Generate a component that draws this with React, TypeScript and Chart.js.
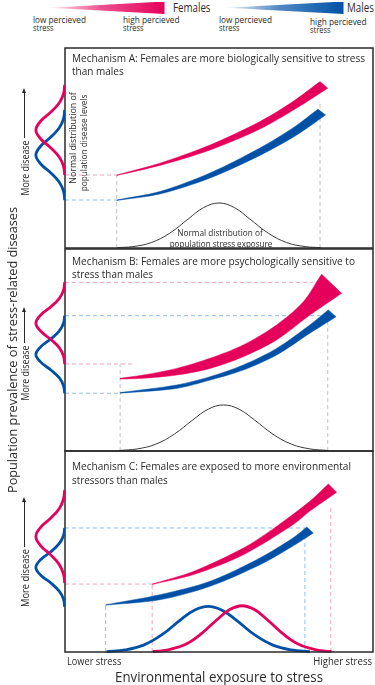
import React, { useEffect, useLayoutEffect, useRef } from "react";
import { Chart, registerables } from "chart.js";

Chart.register(...registerables);

type Pt = [number, number];
type Sex = "F" | "M" | "N";
type Guide = { sex: Sex; from: Pt; to: Pt };

const FEMALE = "#E5005B";
const MALE = "#0051A6";
const GUIDE_COLORS: Record<Sex, string> = { F: "#F2A3C0", M: "#8FC0EA", N: "#C2C2C2" };
const INK = "#2a2a2a";
const FONT = '"Open Sans", "Noto Sans", "Liberation Sans", sans-serif';

// x: environmental stress exposure (0 = lowest, 100 = highest)
// y: population disease level (0 = frame bottom, 100 = frame top)

// ---------- Mechanism A ----------
const femaleRibbonATop: Pt[] = [[16.8, 36.5], [30.8, 42.4], [47.1, 51.5], [63.3, 63.2], [74.0, 73.2], [82.8, 83.2]];
const femaleRibbonABottom: Pt[] = [[85.3, 79.9], [74.7, 69.5], [63.3, 59.5], [47.1, 49.0], [30.8, 41.3], [16.8, 36.3]];
const maleRibbonATop: Pt[] = [[16.8, 24.0], [30.8, 28.2], [47.1, 37.5], [63.3, 50.0], [74.0, 60.0], [82.1, 69.4]];
const maleRibbonABottom: Pt[] = [[84.6, 66.5], [74.7, 56.0], [63.3, 46.3], [47.1, 35.0], [30.8, 27.0], [16.8, 23.8]];
const exposureA: Pt[] = [[17, 0.2], [22, 0.7], [28, 2.7], [34, 7.4], [40, 14.5], [45, 20.2], [50, 22.5], [55, 20.2], [60, 14.5], [66, 7.4], [72, 2.7], [78, 0.7], [83, 0.2]];
const guidesA: Guide[] = [
  { sex: "F", from: [0, 36.5], to: [16.8, 36.5] },
  { sex: "M", from: [0, 24.0], to: [16.8, 24.0] },
  { sex: "N", from: [16.8, 0], to: [16.8, 36.5] },
  { sex: "N", from: [82.8, 0], to: [82.8, 72.5] },
];
const femaleDiseaseA = [36.5, 41, 45.5, 50, 54.5, 59, 63.5, 68, 72.5, 77, 81.5];
const maleDiseaseA = [24, 28.5, 33, 37.5, 42, 46.5, 51, 55.5, 60, 64.5, 69];

// ---------- Mechanism B ----------
const femaleRibbonBTop: Pt[] = [[17.9, 36.0], [25.4, 37.6], [36.3, 40.9], [47.1, 45.9], [57.9, 52.5], [68.7, 62.4], [77.4, 73.9], [83.3, 87.5]];
const femaleRibbonBBottom: Pt[] = [[89.8, 78.1], [79.5, 67.3], [68.7, 55.0], [57.9, 46.7], [47.1, 40.9], [36.3, 37.6], [25.4, 36.0], [17.9, 35.6]];
const maleRibbonBTop: Pt[] = [[17.9, 28.9], [36.3, 32.7], [47.1, 36.8], [57.9, 42.6], [68.7, 50.8], [79.5, 62.4], [85.5, 69.8]];
const maleRibbonBBottom: Pt[] = [[88.0, 66.5], [79.5, 58.3], [68.7, 47.5], [57.9, 40.1], [47.1, 35.1], [36.3, 31.0], [17.9, 28.6]];
const exposureB: Pt[] = [[17.5, 0.25], [23.5, 1.05], [29.5, 3.4], [35.5, 8.35], [41.5, 15.4], [46.5, 20.7], [51.5, 22.8], [56.5, 20.7], [61.5, 15.4], [67.5, 8.35], [73.5, 3.4], [79.5, 1.05], [85.5, 0.25]];
const guidesB: Guide[] = [
  { sex: "F", from: [0, 83.5], to: [80.5, 83.5] },
  { sex: "M", from: [0, 67.0], to: [85.0, 67.0] },
  { sex: "F", from: [0, 43.1], to: [22.2, 43.1] },
  { sex: "M", from: [0, 28.6], to: [17.9, 28.6] },
  { sex: "N", from: [17.9, 0], to: [17.9, 43.1] },
  { sex: "N", from: [85.3, 0], to: [85.3, 69.8] },
];
const femaleDiseaseB = [43.1, 47.1, 51.2, 55.2, 59.3, 63.3, 67.3, 71.4, 75.4, 79.5, 83.5];
const maleDiseaseB = [28.6, 32.4, 36.3, 40.1, 44.0, 47.8, 51.6, 55.5, 59.3, 63.2, 67.0];

// ---------- Mechanism C ----------
const femaleRibbonCTop: Pt[] = [[28.3, 33.8], [41.7, 40.1], [57.9, 51.7], [68.7, 62.5], [79.5, 75.0], [85.5, 83.6]];
const femaleRibbonCBottom: Pt[] = [[88.2, 79.5], [79.5, 70.1], [74.0, 63.3], [57.9, 48.4], [41.7, 38.5], [28.3, 33.6]];
const maleRibbonCTop: Pt[] = [[13.2, 23.5], [30.8, 28.5], [47.1, 35.2], [63.3, 46.8], [74.0, 56.7], [78.5, 62.2]];
const maleRibbonCBottom: Pt[] = [[80.6, 59.2], [74.0, 52.7], [63.3, 43.4], [47.1, 32.7], [30.8, 26.0], [13.2, 23.3]];
const femaleExposureC: Pt[] = [[28.5, 0.26], [33.5, 1.08], [39.5, 4.1], [44.5, 9.4], [49.5, 16.3], [53.5, 21.1], [57.5, 23.0], [61.5, 21.1], [65.5, 16.3], [70.5, 9.4], [75.5, 4.1], [81.5, 1.08], [86.5, 0.26]];
const maleExposureC: Pt[] = [[13.5, 0.2], [19.5, 1.0], [25.5, 3.4], [31.5, 8.6], [37.5, 16.0], [42, 20.8], [46.5, 22.7], [51, 20.8], [55.5, 16.0], [61.5, 8.6], [67.5, 3.4], [73.5, 1.0], [79.5, 0.2]];
const guidesC: Guide[] = [
  { sex: "M", from: [0, 61.7], to: [77.9, 61.7] },
  { sex: "F", from: [0, 33.8], to: [28.3, 33.8] },
  { sex: "M", from: [13.2, 0], to: [13.2, 23.5] },
  { sex: "F", from: [28.3, 0], to: [28.3, 33.8] },
  { sex: "M", from: [77.9, 0], to: [77.9, 61.7] },
  { sex: "F", from: [86.3, 0], to: [86.3, 72.6] },
];
const femaleDiseaseC = [34.3, 38.9, 43.6, 48.2, 52.8, 57.5, 62.1, 66.7, 71.3, 76.0, 80.6];
const maleDiseaseC = [22.5, 26.4, 30.3, 34.3, 38.2, 42.1, 46.0, 49.9, 53.9, 57.8, 61.7];

// relative density along the disease distributions drawn beside each panel
const diseaseDensity = [0.01, 0.05, 0.19, 0.46, 0.79, 0.95, 0.79, 0.46, 0.19, 0.05, 0.01];

const toXY = (pts: Pt[]) => pts.map(([x, y]) => ({ x, y }));

// closed ribbon outline: upper edge left→right, square end cap, lower edge right→left
const ribbon = (top: Pt[], bottom: Pt[], color: string) => {
  const a = top[top.length - 1];
  const b = bottom[0];
  const onCap = (t: number): Pt => [a[0] + (b[0] - a[0]) * t, a[1] + (b[1] - a[1]) * t];
  return {
    data: toXY([...top, onCap(0.03), onCap(0.97), ...bottom]),
    showLine: true,
    fill: "shape",
    backgroundColor: color,
    borderColor: color,
    borderWidth: 0.5,
    pointRadius: 0,
    tension: 0.3,
    order: 1,
    clip: false,
  };
};

const curve = (pts: Pt[], color: string, width: number) => ({
  data: toXY(pts),
  showLine: true,
  fill: false,
  borderColor: color,
  borderWidth: width,
  pointRadius: 0,
  tension: 0.4,
  order: 2,
  clip: false,
});

const guide = (g: Guide) => ({
  data: toXY([g.from, g.to]),
  showLine: true,
  fill: false,
  borderColor: GUIDE_COLORS[g.sex],
  borderWidth: 1,
  borderDash: [4, 3],
  pointRadius: 0,
  order: 3,
  clip: false,
});

const sideCurve = (levels: number[], color: string) => ({
  data: levels.map((y, i) => ({ x: diseaseDensity[i], y })),
  showLine: true,
  fill: false,
  borderColor: color,
  borderWidth: 2.8,
  pointRadius: 0,
  tension: 0.4,
  clip: false,
});

const framePlugin = {
  id: "panelFrame",
  afterDraw(chart: any) {
    const { ctx, chartArea } = chart;
    ctx.save();
    ctx.strokeStyle = INK;
    ctx.lineWidth = 1.5;
    ctx.strokeRect(chartArea.left, chartArea.top, chartArea.right - chartArea.left, chartArea.bottom - chartArea.top);
    ctx.restore();
  },
};

const FRAME_LEFT = 65;
const FRAME_WIDTH = 308;

function useChart(ref: React.RefObject<HTMLCanvasElement>, build: () => any) {
  useEffect(() => {
    const chart = new Chart(ref.current as HTMLCanvasElement, build());
    return () => chart.destroy();
  }, []);
}

function PanelChart({ top, height, datasets }: { top: number; height: number; datasets: any[] }) {
  const ref = useRef<HTMLCanvasElement>(null);
  useChart(ref, () => ({
    type: "scatter",
    data: { datasets },
    options: {
      animation: false,
      responsive: false,
      events: [],
      layout: { padding: 1 },
      scales: {
        x: { type: "linear", min: 0, max: 100, display: false },
        y: { type: "linear", min: 0, max: 100, display: false },
      },
      plugins: { legend: { display: false }, tooltip: { enabled: false } },
    },
    plugins: [framePlugin],
  }));
  return (
    <canvas
      ref={ref}
      width={FRAME_WIDTH + 2}
      height={height + 2}
      style={{ position: "absolute", left: FRAME_LEFT - 1, top: top - 1, width: FRAME_WIDTH + 2, height: height + 2 }}
    />
  );
}

function SideChart({ top, height, datasets }: { top: number; height: number; datasets: any[] }) {
  const ref = useRef<HTMLCanvasElement>(null);
  const w = 46;
  useChart(ref, () => ({
    type: "scatter",
    data: { datasets },
    options: {
      animation: false,
      responsive: false,
      events: [],
      layout: { padding: { top: 1, bottom: 1, left: 0, right: 0 } },
      scales: {
        x: { type: "linear", min: 0, max: 1.5, reverse: true, display: false },
        y: { type: "linear", min: 0, max: 100, display: false },
      },
      plugins: { legend: { display: false }, tooltip: { enabled: false } },
    },
  }));
  return (
    <canvas
      ref={ref}
      width={w}
      height={height + 2}
      style={{ position: "absolute", left: FRAME_LEFT - w, top: top - 1, width: w, height: height + 2 }}
    />
  );
}

type LabelProps = {
  x: number;
  y: number;
  size: number;
  fit?: number; // rendered text length in px
  align?: "left" | "center" | "right";
  rotate?: boolean;
  color?: string;
  children: React.ReactNode;
};

function Label({ x, y, size, fit, align = "left", rotate = false, color = INK, children }: LabelProps) {
  const ref = useRef<HTMLDivElement>(null);
  const tx = align === "left" ? "0" : align === "center" ? "-50%" : "-100%";
  const origin = align === "left" ? "0% 50%" : align === "center" ? "50% 50%" : "100% 50%";
  const base = `translate(${tx},-50%)${rotate ? " rotate(-90deg)" : ""}`;
  useLayoutEffect(() => {
    const el = ref.current;
    if (!el || !fit) return;
    const apply = () => {
      el.style.transform = "none";
      const w = el.getBoundingClientRect().width;
      el.style.transform = `${base} scaleX(${w > 0 ? fit / w : 1})`;
    };
    apply();
    (document as any).fonts?.ready?.then(apply);
  });
  return (
    <div
      ref={ref}
      style={{
        position: "absolute",
        left: x,
        top: y,
        fontFamily: FONT,
        fontSize: size,
        lineHeight: 1,
        whiteSpace: "nowrap",
        color,
        transformOrigin: origin,
        transform: base,
      }}
    >
      {children}
    </div>
  );
}

// "More disease" label with an upward arrow above it
function MoreDisease({ x, bottom, textTop, tip }: { x: number; bottom: number; textTop: number; tip: number }) {
  return (
    <>
      <Label x={x} y={(bottom + textTop) / 2} size={10} fit={bottom - textTop} align="center" rotate>
        More disease
      </Label>
      <div style={{ position: "absolute", left: x - 0.5, top: tip + 4, width: 1, height: textTop - 2 - (tip + 4), background: INK }} />
      <div
        style={{
          position: "absolute",
          left: x - 2.5,
          top: tip,
          width: 0,
          height: 0,
          borderBottom: `5px solid ${INK}`,
          borderLeft: "2.5px solid transparent",
          borderRight: "2.5px solid transparent",
        }}
      />
    </>
  );
}

function Wedge({ left, width, color }: { left: number; width: number; color: string }) {
  return (
    <div
      style={{
        position: "absolute",
        left,
        top: 1.5,
        width,
        height: 12.5,
        clipPath: "polygon(0 50%, 100% 0, 100% 100%)",
        background: `linear-gradient(to right, ${color}18, ${color}b0 45%, ${color})`,
      }}
    />
  );
}

const PANELS = [
  {
    top: 48,
    height: 200,
    datasets: [
      ribbon(femaleRibbonATop, femaleRibbonABottom, FEMALE),
      ribbon(maleRibbonATop, maleRibbonABottom, MALE),
      curve(exposureA, "#3a3a3a", 1),
      ...guidesA.map(guide),
    ],
    side: [sideCurve(femaleDiseaseA, FEMALE), sideCurve(maleDiseaseA, MALE)],
  },
  {
    top: 249,
    height: 202,
    datasets: [
      ribbon(femaleRibbonBTop, femaleRibbonBBottom, FEMALE),
      ribbon(maleRibbonBTop, maleRibbonBBottom, MALE),
      curve(exposureB, "#3a3a3a", 1),
      ...guidesB.map(guide),
    ],
    side: [sideCurve(femaleDiseaseB, FEMALE), sideCurve(maleDiseaseB, MALE)],
  },
  {
    top: 451,
    height: 201,
    datasets: [
      ribbon(femaleRibbonCTop, femaleRibbonCBottom, FEMALE),
      ribbon(maleRibbonCTop, maleRibbonCBottom, MALE),
      curve(femaleExposureC, FEMALE, 2.8),
      curve(maleExposureC, MALE, 2.8),
      ...guidesC.map(guide),
    ],
    side: [sideCurve(femaleDiseaseC, FEMALE), sideCurve(maleDiseaseC, MALE)],
  },
];

export default function App() {
  return (
    <div style={{ position: "absolute", left: 0, top: 0, width: 375, height: 685, background: "#fff", overflow: "hidden" }}>
      {/* legend */}
      <Wedge left={50} width={114.5} color={FEMALE} />
      <Label x={172.5} y={7.5} size={12} fit={37.5}>Females</Label>
      <Label x={33} y={19} size={9} fit={53}>low percieved</Label>
      <Label x={33} y={26.7} size={9} fit={20.7}>stress</Label>
      <Label x={122.5} y={19} size={9} fit={56.6}>high percieved</Label>
      <Label x={122.5} y={26.7} size={9} fit={20.7}>stress</Label>
      <Wedge left={226.5} width={117} color={MALE} />
      <Label x={346.5} y={7.5} size={12} fit={26.8}>Males</Label>
      <Label x={219} y={19} size={9} fit={53}>low percieved</Label>
      <Label x={219} y={26.7} size={9} fit={20.7}>stress</Label>
      <Label x={310} y={21} size={9} fit={56.6}>high percieved</Label>
      <Label x={310} y={28.5} size={9} fit={20.7}>stress</Label>

      {PANELS.map((p, i) => (
        <React.Fragment key={i}>
          <PanelChart top={p.top} height={p.height} datasets={p.datasets} />
          <SideChart top={p.top} height={p.height} datasets={p.side} />
        </React.Fragment>
      ))}

      {/* panel titles */}
      <Label x={71.5} y={56.7} size={11} fit={293}>Mechanism A: Females are more biologically sensitive to stress</Label>
      <Label x={71.5} y={70} size={11} fit={51.7}>than males</Label>
      <Label x={71.5} y={260} size={11} fit={283}>Mechanism B: Females are more psychologically sensitive to</Label>
      <Label x={71.5} y={272.5} size={11} fit={81}>stress than males</Label>
      <Label x={71.5} y={464.7} size={11} fit={279}>Mechanism C: Females are exposed to more environmental</Label>
      <Label x={71.5} y={479} size={11} fit={95.7}>stressors than males</Label>

      {/* annotations in panel A */}
      <Label x={73} y={137.5} size={9.5} fit={91.3} align="center" rotate>Normal distribution of</Label>
      <Label x={84} y={143.3} size={9.5} fit={96.7} align="center" rotate>population disease levels</Label>
      <Label x={219.5} y={233.3} size={9.5} fit={85.3} align="center">Normal distribution of</Label>
      <Label x={220.5} y={244} size={9.5} fit={102.7} align="center">population stress exposure</Label>

      <MoreDisease x={24.5} bottom={195} textTop={140} tip={88} />
      <MoreDisease x={24.5} bottom={400} textTop={345} tip={307} />
      <MoreDisease x={24.5} bottom={607} textTop={549} tip={497} />

      {/* axis titles */}
      <Label x={12.5} y={350} size={13.5} fit={286} align="center" rotate>Population prevalence of stress-related diseases</Label>
      <Label x={66.5} y={661} size={10.5} fit={54.3}>Lower stress</Label>
      <Label x={372} y={661} size={10.5} fit={58.7} align="right">Higher stress</Label>
      <Label x={219} y={676} size={15} fit={208} align="center">Environmental exposure to stress</Label>
    </div>
  );
}
